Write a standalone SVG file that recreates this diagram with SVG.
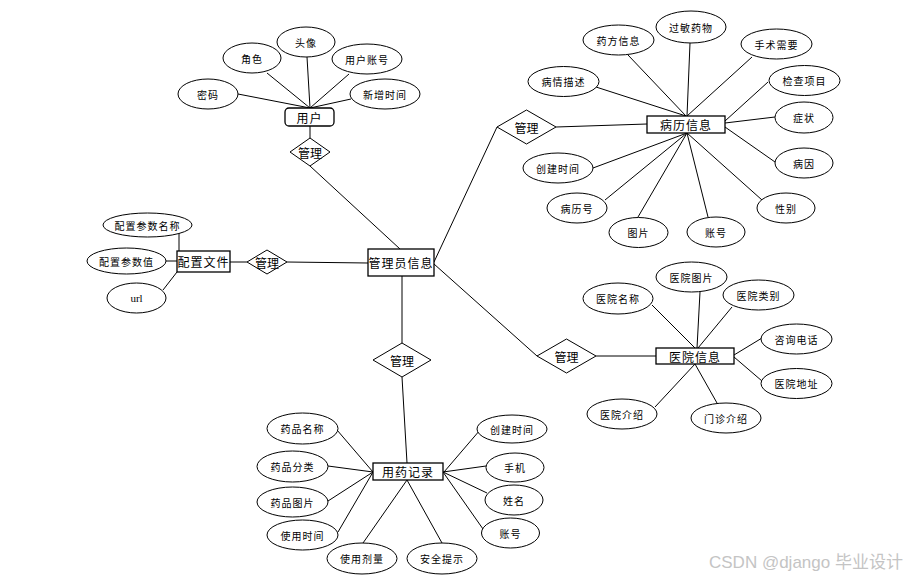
<svg xmlns="http://www.w3.org/2000/svg" width="910" height="577" viewBox="0 0 910 577">
<style>
.bg{fill:#fff}
.ent{fill:#fff;stroke:#000;stroke-width:1.3}
.att{fill:#fff;stroke:#000;stroke-width:1}
.rel{fill:#fff;stroke:#000;stroke-width:1}
.ln{stroke:#000;stroke-width:1;fill:none}
text{font-family:"Noto Sans CJK SC","Noto Sans",sans-serif;text-anchor:middle;dominant-baseline:central;fill:#000}
.te{font-size:12px;letter-spacing:1px}
.ta{font-size:10px;letter-spacing:1px}
.tr{font-size:12px}
.wm{font-family:"Liberation Sans","Noto Sans CJK SC",sans-serif;font-size:17px;fill:#c4c4c4;text-anchor:start}
</style>
<rect class="bg" x="0" y="0" width="910" height="577"/>
<g id="connectors">
<line class="ln" x1="238" y1="94" x2="310" y2="108"/>
<line class="ln" x1="267" y1="73" x2="310" y2="108"/>
<line class="ln" x1="307" y1="57" x2="310" y2="108"/>
<line class="ln" x1="349" y1="74" x2="310" y2="108"/>
<line class="ln" x1="351" y1="99" x2="310" y2="108"/>
<line class="ln" x1="310" y1="126" x2="310" y2="138"/>
<line class="ln" x1="310" y1="166" x2="400" y2="249"/>
<line class="ln" x1="179" y1="232" x2="179" y2="251"/>
<line class="ln" x1="166" y1="261" x2="177" y2="261"/>
<line class="ln" x1="163" y1="290" x2="177" y2="272"/>
<line class="ln" x1="230" y1="262" x2="247" y2="262"/>
<line class="ln" x1="287" y1="262" x2="368" y2="263"/>
<line class="ln" x1="434" y1="262" x2="497" y2="127"/>
<line class="ln" x1="556" y1="127" x2="647" y2="124"/>
<line class="ln" x1="596" y1="87" x2="686" y2="116"/>
<line class="ln" x1="628" y1="55" x2="686" y2="116"/>
<line class="ln" x1="690" y1="43" x2="687" y2="116"/>
<line class="ln" x1="752" y1="57" x2="687" y2="116"/>
<line class="ln" x1="768" y1="82" x2="725" y2="121"/>
<line class="ln" x1="775" y1="117" x2="725" y2="123"/>
<line class="ln" x1="775" y1="162" x2="725" y2="127"/>
<line class="ln" x1="762" y1="200" x2="687" y2="133"/>
<line class="ln" x1="708" y1="217" x2="687" y2="133"/>
<line class="ln" x1="638" y1="217" x2="687" y2="133"/>
<line class="ln" x1="605" y1="200" x2="687" y2="133"/>
<line class="ln" x1="593" y1="168" x2="687" y2="133"/>
<line class="ln" x1="434" y1="264" x2="537" y2="356"/>
<line class="ln" x1="596" y1="356" x2="656" y2="356"/>
<line class="ln" x1="652" y1="305" x2="695" y2="348"/>
<line class="ln" x1="700" y1="292" x2="697" y2="348"/>
<line class="ln" x1="732" y1="307" x2="698" y2="348"/>
<line class="ln" x1="762" y1="338" x2="734" y2="355"/>
<line class="ln" x1="762" y1="381" x2="734" y2="357"/>
<line class="ln" x1="717" y1="403" x2="695" y2="364"/>
<line class="ln" x1="655" y1="407" x2="695" y2="364"/>
<line class="ln" x1="402" y1="276" x2="402" y2="343"/>
<line class="ln" x1="402" y1="377" x2="407" y2="463"/>
<line class="ln" x1="337" y1="430" x2="373" y2="472"/>
<line class="ln" x1="328" y1="466" x2="373" y2="472"/>
<line class="ln" x1="328" y1="501" x2="373" y2="472"/>
<line class="ln" x1="338" y1="532" x2="373" y2="472"/>
<line class="ln" x1="363" y1="543" x2="407" y2="480"/>
<line class="ln" x1="442" y1="543" x2="407" y2="480"/>
<line class="ln" x1="480" y1="430" x2="444" y2="472"/>
<line class="ln" x1="486" y1="466" x2="443" y2="472"/>
<line class="ln" x1="487" y1="493" x2="443" y2="472"/>
<line class="ln" x1="483" y1="529" x2="443" y2="472"/>
</g>
<g id="user"><rect class="ent" x="285" y="108" width="49" height="18" rx="4"/><text class="te" x="309.5" y="117">用户</text></g>
<g id="admin"><rect class="ent" x="368" y="249" width="66" height="27"/><text class="te" x="401" y="262.5">管理员信息</text></g>
<g id="config"><rect class="ent" x="177" y="251" width="53" height="21"/><text class="te" x="203.5" y="261.5">配置文件</text></g>
<g id="record"><rect class="ent" x="647" y="116" width="78" height="17"/><text class="te" x="686" y="124.5">病历信息</text></g>
<g id="hospital"><rect class="ent" x="656" y="348" width="78" height="16"/><text class="te" x="695" y="356">医院信息</text></g>
<g id="medication"><rect class="ent" x="373" y="463" width="70" height="17"/><text class="te" x="408" y="471.5">用药记录</text></g>
<g id="rel-user"><polygon class="rel" points="290,152 310,138 330,152 310,166"/><text class="tr" x="310" y="152">管理</text></g>
<g id="rel-config"><polygon class="rel" points="247,262 267,250 287,262 267,274"/><text class="tr" x="267" y="262">管理</text></g>
<g id="rel-record"><polygon class="rel" points="497,127 526.5,110 556,127 526.5,144"/><text class="tr" x="526.5" y="127">管理</text></g>
<g id="rel-hospital"><polygon class="rel" points="537,356 566.5,339 596,356 566.5,373"/><text class="tr" x="566.5" y="356">管理</text></g>
<g id="rel-med"><polygon class="rel" points="373,360 402,343 431,360 402,377"/><text class="tr" x="402" y="360">管理</text></g>
<g id="a-mima"><ellipse class="att" cx="208" cy="94" rx="30" ry="15"/><text class="ta" x="208" y="94">密码</text></g>
<g id="a-juese"><ellipse class="att" cx="252" cy="58" rx="29" ry="15"/><text class="ta" x="252" y="58">角色</text></g>
<g id="a-touxiang"><ellipse class="att" cx="306" cy="42" rx="29" ry="15"/><text class="ta" x="306" y="42">头像</text></g>
<g id="a-yhzh"><ellipse class="att" cx="367" cy="59" rx="35" ry="15"/><text class="ta" x="367" y="59">用户账号</text></g>
<g id="a-xzsj"><ellipse class="att" cx="385" cy="94" rx="35" ry="15"/><text class="ta" x="385" y="94">新增时间</text></g>
<g id="a-pzcsmc"><ellipse class="att" cx="147.5" cy="225" rx="44.5" ry="12"/><text class="ta" x="147.5" y="225">配置参数名称</text></g>
<g id="a-pzcsz"><ellipse class="att" cx="126.5" cy="261" rx="39.5" ry="13"/><text class="ta" x="126.5" y="261">配置参数值</text></g>
<g id="a-url"><ellipse class="att" cx="136.5" cy="298" rx="29.5" ry="15"/><text x="136.5" y="298" style="font-family:'Liberation Serif',serif;font-size:11px">url</text></g>
<g id="a-yfxx"><ellipse class="att" cx="618.5" cy="40" rx="35.5" ry="15"/><text class="ta" x="618.5" y="40">药方信息</text></g>
<g id="a-gmyw"><ellipse class="att" cx="691" cy="27" rx="35" ry="16"/><text class="ta" x="691" y="27">过敏药物</text></g>
<g id="a-ssxy"><ellipse class="att" cx="776.5" cy="44" rx="35.5" ry="15"/><text class="ta" x="776.5" y="44">手术需要</text></g>
<g id="a-jcxm"><ellipse class="att" cx="804.5" cy="80.5" rx="35.5" ry="15"/><text class="ta" x="804.5" y="80.5">检查项目</text></g>
<g id="a-zz"><ellipse class="att" cx="804" cy="117.5" rx="29" ry="15.5"/><text class="ta" x="804" y="117.5">症状</text></g>
<g id="a-by"><ellipse class="att" cx="804" cy="163" rx="29" ry="15"/><text class="ta" x="804" y="163">病因</text></g>
<g id="a-xb"><ellipse class="att" cx="786" cy="208" rx="29" ry="15"/><text class="ta" x="786" y="208">性别</text></g>
<g id="a-zh1"><ellipse class="att" cx="716" cy="232" rx="29" ry="15"/><text class="ta" x="716" y="232">账号</text></g>
<g id="a-tp"><ellipse class="att" cx="638.5" cy="232.5" rx="29.5" ry="15"/><text class="ta" x="638.5" y="232.5">图片</text></g>
<g id="a-blh"><ellipse class="att" cx="577" cy="208" rx="30" ry="15"/><text class="ta" x="577" y="208">病历号</text></g>
<g id="a-cjsj1"><ellipse class="att" cx="558" cy="168" rx="35" ry="15"/><text class="ta" x="558" y="168">创建时间</text></g>
<g id="a-bqms"><ellipse class="att" cx="563.5" cy="81.5" rx="35.5" ry="15"/><text class="ta" x="563.5" y="81.5">病情描述</text></g>
<g id="a-yymc"><ellipse class="att" cx="618" cy="298.5" rx="35" ry="15.5"/><text class="ta" x="618" y="298.5">医院名称</text></g>
<g id="a-yytp"><ellipse class="att" cx="691.5" cy="277" rx="35.5" ry="15"/><text class="ta" x="691.5" y="277">医院图片</text></g>
<g id="a-yylb"><ellipse class="att" cx="758.5" cy="295" rx="35.5" ry="15"/><text class="ta" x="758.5" y="295">医院类别</text></g>
<g id="a-zxdh"><ellipse class="att" cx="796.5" cy="339" rx="35.5" ry="15"/><text class="ta" x="796.5" y="339">咨询电话</text></g>
<g id="a-yydz"><ellipse class="att" cx="796.5" cy="383.5" rx="35.5" ry="15"/><text class="ta" x="796.5" y="383.5">医院地址</text></g>
<g id="a-mzjs"><ellipse class="att" cx="726" cy="418" rx="35" ry="15"/><text class="ta" x="726" y="418">门诊介绍</text></g>
<g id="a-yyjs"><ellipse class="att" cx="622" cy="414" rx="35" ry="15"/><text class="ta" x="622" y="414">医院介绍</text></g>
<g id="a-ypmc"><ellipse class="att" cx="302.5" cy="428.5" rx="35.5" ry="15.5"/><text class="ta" x="302.5" y="428.5">药品名称</text></g>
<g id="a-ypfl"><ellipse class="att" cx="292.5" cy="466.5" rx="35.5" ry="15.5"/><text class="ta" x="292.5" y="466.5">药品分类</text></g>
<g id="a-yptp"><ellipse class="att" cx="292.5" cy="502" rx="35.5" ry="15"/><text class="ta" x="292.5" y="502">药品图片</text></g>
<g id="a-sysj"><ellipse class="att" cx="302.5" cy="535" rx="35.5" ry="15"/><text class="ta" x="302.5" y="535">使用时间</text></g>
<g id="a-syjl"><ellipse class="att" cx="362" cy="558.5" rx="35" ry="15.5"/><text class="ta" x="362" y="558.5">使用剂量</text></g>
<g id="a-aqts"><ellipse class="att" cx="442" cy="558.5" rx="35" ry="15.5"/><text class="ta" x="442" y="558.5">安全提示</text></g>
<g id="a-cjsj2"><ellipse class="att" cx="512" cy="429" rx="35" ry="14"/><text class="ta" x="512" y="429">创建时间</text></g>
<g id="a-sj"><ellipse class="att" cx="515" cy="467.5" rx="29" ry="14.5"/><text class="ta" x="515" y="467.5">手机</text></g>
<g id="a-xm"><ellipse class="att" cx="514" cy="500" rx="29" ry="15"/><text class="ta" x="514" y="500">姓名</text></g>
<g id="a-zh2"><ellipse class="att" cx="510.5" cy="533" rx="29" ry="15"/><text class="ta" x="510.5" y="533">账号</text></g>
<text class="wm" x="709" y="568" style="dominant-baseline:auto">CSDN @django  毕业设计</text>
</svg>
